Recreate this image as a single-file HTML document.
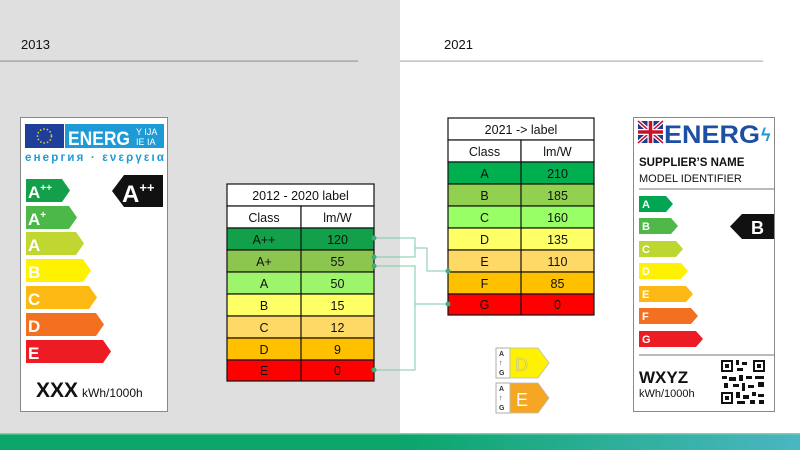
<!DOCTYPE html>
<html><head><meta charset="utf-8"><style>
html,body{margin:0;padding:0;width:800px;height:450px;overflow:hidden;background:#fff}
svg{display:block}
text{font-family:"Liberation Sans","DejaVu Sans",sans-serif}
</style></head><body>
<svg width="800" height="450" viewBox="0 0 800 450" xmlns="http://www.w3.org/2000/svg">
<defs>
<linearGradient id="band" x1="0" x2="1" y1="0" y2="0">
<stop offset="0" stop-color="#0aa66a"/><stop offset="0.5" stop-color="#0aa66a"/><stop offset="1" stop-color="#4bb6c2"/>
</linearGradient>
</defs>
<rect x="0" y="0" width="400" height="433" fill="#dfdfdf"/>
<rect x="0" y="433" width="800" height="17" fill="url(#band)"/>
<rect x="0" y="433" width="800" height="1.5" fill="#7fd0a8"/>
<text x="21" y="49" font-size="13" fill="#111">2013</text>
<rect x="0" y="60.5" width="358" height="1.2" fill="#9a9a9a"/>
<text x="444" y="49" font-size="13" fill="#111">2021</text>
<rect x="400" y="60.5" width="363" height="1.2" fill="#b0b0b0"/>

<!-- Left label -->
<rect x="20.5" y="117.5" width="147" height="294" fill="#fff" stroke="#888" stroke-width="1"/>
<rect x="25" y="124" width="39" height="24" fill="#1d3f99"/>
<circle cx="44.5" cy="136" r="7" fill="none" stroke="#e8d43a" stroke-width="1.5" stroke-dasharray="1.5 2"/>
<rect x="65" y="124" width="99" height="24" fill="#1e9bd7"/>
<text x="68" y="145" font-size="19" fill="#fff" font-weight="bold" textLength="62" lengthAdjust="spacingAndGlyphs">ENERG</text>
<text x="136" y="135" font-size="9" fill="#fff">Y IJA</text>
<text x="136" y="145" font-size="9" fill="#fff">IE IA</text>
<text x="25" y="161" font-size="11.5" fill="#1e9bd7" font-weight="bold" textLength="139">енергия · ενεργεια</text>
<g font-size="17" fill="#fff" font-weight="bold">
<polygon points="26,179 62,179 70,190.5 62,202 26,202" fill="#12a04a"/><text x="28" y="198">A<tspan font-size="10" dy="-7">++</tspan></text>
<polygon points="26,206 69,206 77,217.5 69,229 26,229" fill="#4cb848"/><text x="28" y="225">A<tspan font-size="10" dy="-7">+</tspan></text>
<polygon points="26,232 76,232 84,243.5 76,255 26,255" fill="#bfd730"/><text x="28" y="251">A</text>
<polygon points="26,259 83,259 91,270.5 83,282 26,282" fill="#fff200"/><text x="28" y="278">B</text>
<polygon points="26,286 89,286 97,297.5 89,309 26,309" fill="#fdb913"/><text x="28" y="305">C</text>
<polygon points="26,313 96,313 104,324.5 96,336 26,336" fill="#f37021"/><text x="28" y="332">D</text>
<polygon points="26,340 103,340 111,351.5 103,363 26,363" fill="#ed1c24"/><text x="28" y="359">E</text>
</g>
<polygon points="112,191 124,175 163,175 163,207 124,207" fill="#111"/>
<text x="122" y="202" font-size="24" font-weight="bold" fill="#fff">A<tspan font-size="13" dy="-10">++</tspan></text>
<text x="36" y="397" font-size="21" font-weight="bold" fill="#111">XXX</text>
<text x="82" y="397" font-size="12" fill="#111">kWh/1000h</text>

<!-- Old table -->
<g stroke="#111" stroke-width="1.2">
<rect x="227" y="184" width="147" height="22" fill="#fff"/>
<rect x="227" y="206" width="74" height="22" fill="#fff"/><rect x="301" y="206" width="73" height="22" fill="#fff"/>
<rect x="227" y="228" width="147" height="22" fill="#12a04a"/>
<rect x="227" y="250" width="147" height="22" fill="#8cc64f"/>
<rect x="227" y="272" width="147" height="22" fill="#9cf56a"/>
<rect x="227" y="294" width="147" height="22" fill="#ffff66"/>
<rect x="227" y="316" width="147" height="22" fill="#ffd966"/>
<rect x="227" y="338" width="147" height="22" fill="#ffc000"/>
<rect x="227" y="360" width="147" height="21" fill="#ff0000"/>
<line x1="301" y1="228" x2="301" y2="381"/>
</g>
<g font-size="12.5" fill="#111" text-anchor="middle">
<text x="300.5" y="200">2012 - 2020 label</text>
<text x="264" y="222">Class</text><text x="337.5" y="222">lm/W</text>
<text x="264" y="244">A++</text><text x="337.5" y="244">120</text>
<text x="264" y="266">A+</text><text x="337.5" y="266">55</text>
<text x="264" y="288">A</text><text x="337.5" y="288">50</text>
<text x="264" y="310">B</text><text x="337.5" y="310">15</text>
<text x="264" y="332">C</text><text x="337.5" y="332">12</text>
<text x="264" y="354">D</text><text x="337.5" y="354">9</text>
<text x="264" y="375">E</text><text x="337.5" y="375">0</text>
</g>

<!-- New table -->
<g stroke="#111" stroke-width="1.2">
<rect x="448" y="118" width="146" height="22" fill="#fff"/>
<rect x="448" y="140" width="73" height="22" fill="#fff"/><rect x="521" y="140" width="73" height="22" fill="#fff"/>
<rect x="448" y="162" width="146" height="22" fill="#00b050"/>
<rect x="448" y="184" width="146" height="22" fill="#92d050"/>
<rect x="448" y="206" width="146" height="22" fill="#99ff66"/>
<rect x="448" y="228" width="146" height="22" fill="#ffff66"/>
<rect x="448" y="250" width="146" height="22" fill="#ffd966"/>
<rect x="448" y="272" width="146" height="22" fill="#ffc000"/>
<rect x="448" y="294" width="146" height="21" fill="#ff0000"/>
<line x1="521" y1="162" x2="521" y2="315"/>
</g>
<g font-size="12.5" fill="#111" text-anchor="middle">
<text x="521" y="134">2021 -&gt; label</text>
<text x="484.5" y="156">Class</text><text x="557.5" y="156">lm/W</text>
<text x="484.5" y="178">A</text><text x="557.5" y="178">210</text>
<text x="484.5" y="200">B</text><text x="557.5" y="200">185</text>
<text x="484.5" y="222">C</text><text x="557.5" y="222">160</text>
<text x="484.5" y="244">D</text><text x="557.5" y="244">135</text>
<text x="484.5" y="266">E</text><text x="557.5" y="266">110</text>
<text x="484.5" y="288">F</text><text x="557.5" y="288">85</text>
<text x="484.5" y="309">G</text><text x="557.5" y="309">0</text>
</g>

<!-- connectors -->
<g stroke="#7dcaa6" stroke-width="1" fill="none">
<polyline points="374,238 415,238 415,257 374,257"/>
<polyline points="415,248 427,248 427,271 448,271"/>
<polyline points="374,266 415,266 415,370 374,370"/>
<polyline points="415,304 448,304"/>
</g>
<g fill="#3fae7c">
<circle cx="374" cy="238" r="2.5"/><circle cx="374" cy="257" r="2.5"/><circle cx="374" cy="266" r="2.5"/><circle cx="374" cy="370" r="2.5"/>
<circle cx="448" cy="271" r="2.5"/><circle cx="448" cy="304" r="2.5"/>
</g>

<!-- small badges -->
<g>
<rect x="496" y="348" width="14" height="30" fill="#fff" stroke="#999" stroke-width="0.8"/>
<polygon points="510,348 538,348 549,363 538,378 510,378" fill="#fff200" stroke="#bbb" stroke-width="0.8"/>
<text x="499" y="356" font-size="7" font-weight="bold" fill="#333">A</text>
<text x="499" y="365" font-size="7" font-weight="bold" fill="#333">↑</text>
<text x="499" y="375" font-size="7" font-weight="bold" fill="#333">G</text>
<text x="515" y="371" font-size="18" fill="#fff200" stroke="#bbb" stroke-width="0.6">D</text>
<rect x="496" y="383" width="14" height="30" fill="#fff" stroke="#999" stroke-width="0.8"/>
<polygon points="510,383 538,383 549,398 538,413 510,413" fill="#f5a623" stroke="#bbb" stroke-width="0.8"/>
<text x="499" y="391" font-size="7" font-weight="bold" fill="#333">A</text>
<text x="499" y="400" font-size="7" font-weight="bold" fill="#333">↑</text>
<text x="499" y="410" font-size="7" font-weight="bold" fill="#333">G</text>
<text x="516" y="406" font-size="18" fill="#fff">E</text>
</g>

<!-- Right label -->
<rect x="633.5" y="117.5" width="141" height="294" fill="#fff" stroke="#888" stroke-width="1"/>
<rect x="638" y="121" width="25" height="22" fill="#1f3b8f"/>
<path d="M638,121 L663,143 M663,121 L638,143" stroke="#fff" stroke-width="4"/>
<path d="M638,121 L663,143 M663,121 L638,143" stroke="#c8102e" stroke-width="1.5"/>
<path d="M650.5,121 V143 M638,132 H663" stroke="#fff" stroke-width="6"/>
<path d="M650.5,121 V143 M638,132 H663" stroke="#c8102e" stroke-width="3.5"/>
<text x="664" y="143" font-size="25" font-weight="bold" fill="#1d4fa3" textLength="96" lengthAdjust="spacingAndGlyphs">ENERG</text>
<text x="761" y="141" font-size="18" font-weight="bold" fill="#1e9bd7">ϟ</text>
<text x="639" y="166" font-size="11.5" font-weight="bold" fill="#111">SUPPLIER’S NAME</text>
<text x="639" y="182" font-size="11" fill="#111">MODEL IDENTIFIER</text>
<rect x="639" y="188.5" width="135" height="1" fill="#777"/>
<g font-size="11" font-weight="bold" fill="#fff">
<polygon points="639,196 666,196 673,204 666,212 639,212" fill="#00a651"/><text x="642" y="208">A</text>
<polygon points="639,218 671,218 678,226 671,234 639,234" fill="#50b848"/><text x="642" y="230">B</text>
<polygon points="639,241 676,241 683,249 676,257 639,257" fill="#bed630"/><text x="642" y="253">C</text>
<polygon points="639,263 681,263 688,271 681,279 639,279" fill="#fff200"/><text x="642" y="275">D</text>
<polygon points="639,286 686,286 693,294 686,302 639,302" fill="#fcb814"/><text x="642" y="298">E</text>
<polygon points="639,308 691,308 698,316 691,324 639,324" fill="#f37021"/><text x="642" y="320">F</text>
<polygon points="639,331 696,331 703,339 696,347 639,347" fill="#ed1c24"/><text x="642" y="343">G</text>
</g>
<polygon points="730,226.5 742,214 774,214 774,239 742,239" fill="#111"/>
<text x="751" y="234" font-size="18" font-weight="bold" fill="#fff">B</text>
<rect x="639" y="354.5" width="135" height="1" fill="#777"/>
<text x="639" y="383" font-size="17" font-weight="bold" fill="#111">WXYZ</text>
<text x="639" y="397" font-size="11" fill="#111">kWh/1000h</text>
<g fill="#111">
<rect x="721" y="360" width="44" height="44" fill="#fff"/>
<rect x="721" y="360" width="12" height="12"/><rect x="723" y="362" width="8" height="8" fill="#fff"/><rect x="725" y="364" width="4" height="4"/>
<rect x="753" y="360" width="12" height="12"/><rect x="755" y="362" width="8" height="8" fill="#fff"/><rect x="757" y="364" width="4" height="4"/>
<rect x="721" y="392" width="12" height="12"/><rect x="723" y="394" width="8" height="8" fill="#fff"/><rect x="725" y="396" width="4" height="4"/>
<rect x="736" y="360" width="3" height="5"/><rect x="742" y="362" width="5" height="3"/><rect x="737" y="368" width="6" height="3"/>
<rect x="722" y="376" width="5" height="3"/><rect x="729" y="377" width="7" height="4"/><rect x="739" y="375" width="4" height="6"/>
<rect x="746" y="376" width="6" height="3"/><rect x="755" y="376" width="9" height="3"/><rect x="724" y="383" width="4" height="5"/>
<rect x="733" y="384" width="6" height="3"/><rect x="742" y="383" width="3" height="8"/><rect x="748" y="385" width="6" height="3"/>
<rect x="758" y="382" width="6" height="5"/><rect x="736" y="392" width="4" height="6"/><rect x="743" y="395" width="6" height="4"/>
<rect x="752" y="392" width="4" height="4"/><rect x="758" y="394" width="6" height="3"/><rect x="737" y="401" width="8" height="3"/>
<rect x="750" y="400" width="5" height="4"/><rect x="759" y="400" width="5" height="4"/>
</g>
</svg>
</body></html>
